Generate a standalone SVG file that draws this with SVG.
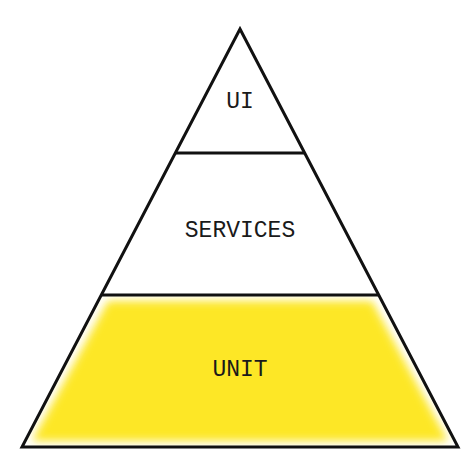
<svg xmlns="http://www.w3.org/2000/svg" width="474" height="468" viewBox="0 0 474 468">
<style>
.edge{fill:none;stroke:#111;stroke-width:3;stroke-linejoin:miter;stroke-linecap:butt}
.lbl{font-family:"Liberation Mono","Courier New",monospace;font-size:23px;fill:#1a1a1a;text-anchor:middle}
</style>
<defs>
<clipPath id="trap"><polygon points="101,295 379,295 458,447 22,447"/></clipPath>
<filter id="soft" x="-10%" y="-10%" width="120%" height="120%"><feGaussianBlur stdDeviation="4"/></filter>
</defs>
<rect width="474" height="468" fill="#fff"/>
<g id="unit">
<g clip-path="url(#trap)"><polygon points="108,301 372,301 448,441 32,441" fill="#fde725" filter="url(#soft)"/></g>
<text class="lbl" x="240" y="376">UNIT</text>
</g>
<g id="services">
<text class="lbl" x="240" y="237">SERVICES</text>
</g>
<g id="ui">
<text class="lbl" x="240" y="108">UI</text>
</g>
<g id="connectors">
<polygon class="edge" points="240,29 458,447 22,447"/>
<line class="edge" x1="176" y1="153" x2="304" y2="153"/>
<line class="edge" x1="102" y1="295" x2="378" y2="295"/>
</g>
</svg>
